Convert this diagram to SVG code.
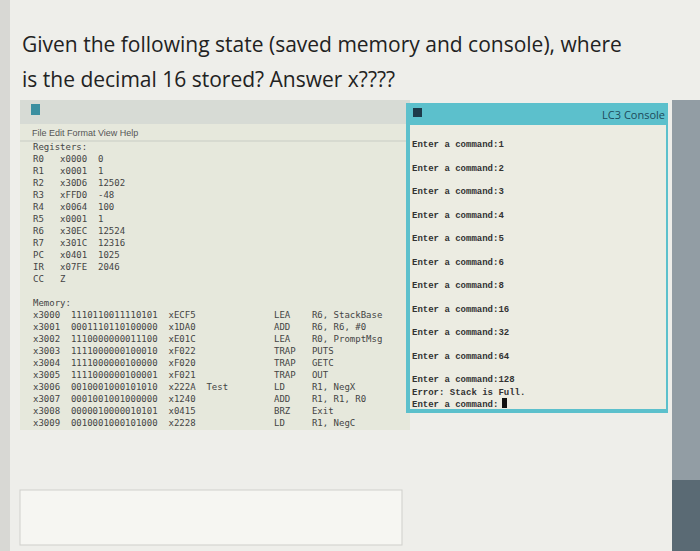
<svg xmlns="http://www.w3.org/2000/svg" width="700" height="551" viewBox="0 0 700 551">
<style>
.q{font-family:"Open Sans","Liberation Sans",sans-serif;font-size:21px;fill:#222}
.m{font-family:"DejaVu Sans Mono","Liberation Mono",monospace;font-size:9px;fill:#444}
.s{font-family:"Liberation Sans",sans-serif;font-size:9px;fill:#555}
.c{font-family:"Liberation Mono",monospace;font-size:9px;fill:#333;font-weight:bold}
</style>
<rect width="700" height="551" fill="#eeeeea"/>
<rect x="0" y="0" width="10" height="551" fill="#d8d8d4"/>
<g id="question">
<text class="q" x="22" y="52">Given the following state (saved memory and console), where</text>
<text class="q" x="22" y="87">is the decimal 16 stored? Answer x????</text>
</g>
<g id="memory-window">
<rect x="20" y="100" width="390" height="330" fill="#e6e8dc"/>
<rect x="20" y="100" width="390" height="24" fill="#d7dbd5"/>
<rect x="31" y="104" width="9" height="11" fill="#3b8fa0"/>
<text class="s" x="32" y="136">File  Edit  Format  View  Help</text>
<line x1="20" y1="141" x2="410" y2="141" stroke="#c8ccc4"/>
<text class="m" x="33" y="150">Registers:</text>
<text class="m" x="33" y="162" xml:space="preserve">R0   x0000  0</text>
<text class="m" x="33" y="174" xml:space="preserve">R1   x0001  1</text>
<text class="m" x="33" y="186" xml:space="preserve">R2   x30D6  12502</text>
<text class="m" x="33" y="198" xml:space="preserve">R3   xFFD0  -48</text>
<text class="m" x="33" y="210" xml:space="preserve">R4   x0064  100</text>
<text class="m" x="33" y="222" xml:space="preserve">R5   x0001  1</text>
<text class="m" x="33" y="234" xml:space="preserve">R6   x30EC  12524</text>
<text class="m" x="33" y="246" xml:space="preserve">R7   x301C  12316</text>
<text class="m" x="33" y="258" xml:space="preserve">PC   x0401  1025</text>
<text class="m" x="33" y="270" xml:space="preserve">IR   x07FE  2046</text>
<text class="m" x="33" y="282" xml:space="preserve">CC   Z</text>
<text class="m" x="33" y="306">Memory:</text>
<text class="m" x="33" y="318" xml:space="preserve">x3000  1110110011110101  xECF5</text>
<text class="m" x="33" y="330" xml:space="preserve">x3001  0001110110100000  x1DA0</text>
<text class="m" x="33" y="342" xml:space="preserve">x3002  1110000000011100  xE01C</text>
<text class="m" x="33" y="354" xml:space="preserve">x3003  1111000000100010  xF022</text>
<text class="m" x="33" y="366" xml:space="preserve">x3004  1111000000100000  xF020</text>
<text class="m" x="33" y="378" xml:space="preserve">x3005  1111000000100001  xF021</text>
<text class="m" x="33" y="390" xml:space="preserve">x3006  0010001000101010  x222A  Test</text>
<text class="m" x="33" y="402" xml:space="preserve">x3007  0001001001000000  x1240</text>
<text class="m" x="33" y="414" xml:space="preserve">x3008  0000010000010101  x0415</text>
<text class="m" x="33" y="426" xml:space="preserve">x3009  0010001000101000  x2228</text>
<text class="m" x="274" y="318" xml:space="preserve">LEA    R6, StackBase</text>
<text class="m" x="274" y="330" xml:space="preserve">ADD    R6, R6, #0</text>
<text class="m" x="274" y="342" xml:space="preserve">LEA    R0, PromptMsg</text>
<text class="m" x="274" y="354" xml:space="preserve">TRAP   PUTS</text>
<text class="m" x="274" y="366" xml:space="preserve">TRAP   GETC</text>
<text class="m" x="274" y="378" xml:space="preserve">TRAP   OUT</text>
<text class="m" x="274" y="390" xml:space="preserve">LD     R1, NegX</text>
<text class="m" x="274" y="402" xml:space="preserve">ADD    R1, R1, R0</text>
<text class="m" x="274" y="414" xml:space="preserve">BRZ    Exit</text>
<text class="m" x="274" y="426" xml:space="preserve">LD     R1, NegC</text>
</g>
<g id="console">
<rect x="406" y="103" width="262" height="310" fill="#5cc0cc"/>
<rect x="410" y="125" width="256" height="284" fill="#ecece2"/>
<rect x="413" y="108" width="9" height="9" fill="#1d3a4a"/>
<text x="665" y="119" text-anchor="end" font-family="Open Sans,Liberation Sans,sans-serif" font-size="11" fill="#1d4a5a">LC3 Console</text>
<text class="c" x="412" y="147">Enter a command:1</text>
<text class="c" x="412" y="171">Enter a command:2</text>
<text class="c" x="412" y="194">Enter a command:3</text>
<text class="c" x="412" y="218">Enter a command:4</text>
<text class="c" x="412" y="241">Enter a command:5</text>
<text class="c" x="412" y="265">Enter a command:6</text>
<text class="c" x="412" y="288">Enter a command:8</text>
<text class="c" x="412" y="312">Enter a command:16</text>
<text class="c" x="412" y="335">Enter a command:32</text>
<text class="c" x="412" y="359">Enter a command:64</text>
<text class="c" x="412" y="382">Enter a command:128</text>
<text class="c" x="412" y="395">Error: Stack is Full.</text>
<text class="c" x="412" y="407">Enter a command:</text>
<rect x="502" y="398" width="5" height="10" fill="#111"/>
</g>
<rect x="672" y="100" width="28" height="451" fill="#5a6a74"/>
<rect x="672" y="100" width="28" height="380" fill="#b8c0c4" opacity="0.6"/>
<g id="answer-box">
<rect x="20" y="490" width="382" height="55" fill="#f6f6f2" stroke="#cfcfcb"/>
</g>
</svg>
